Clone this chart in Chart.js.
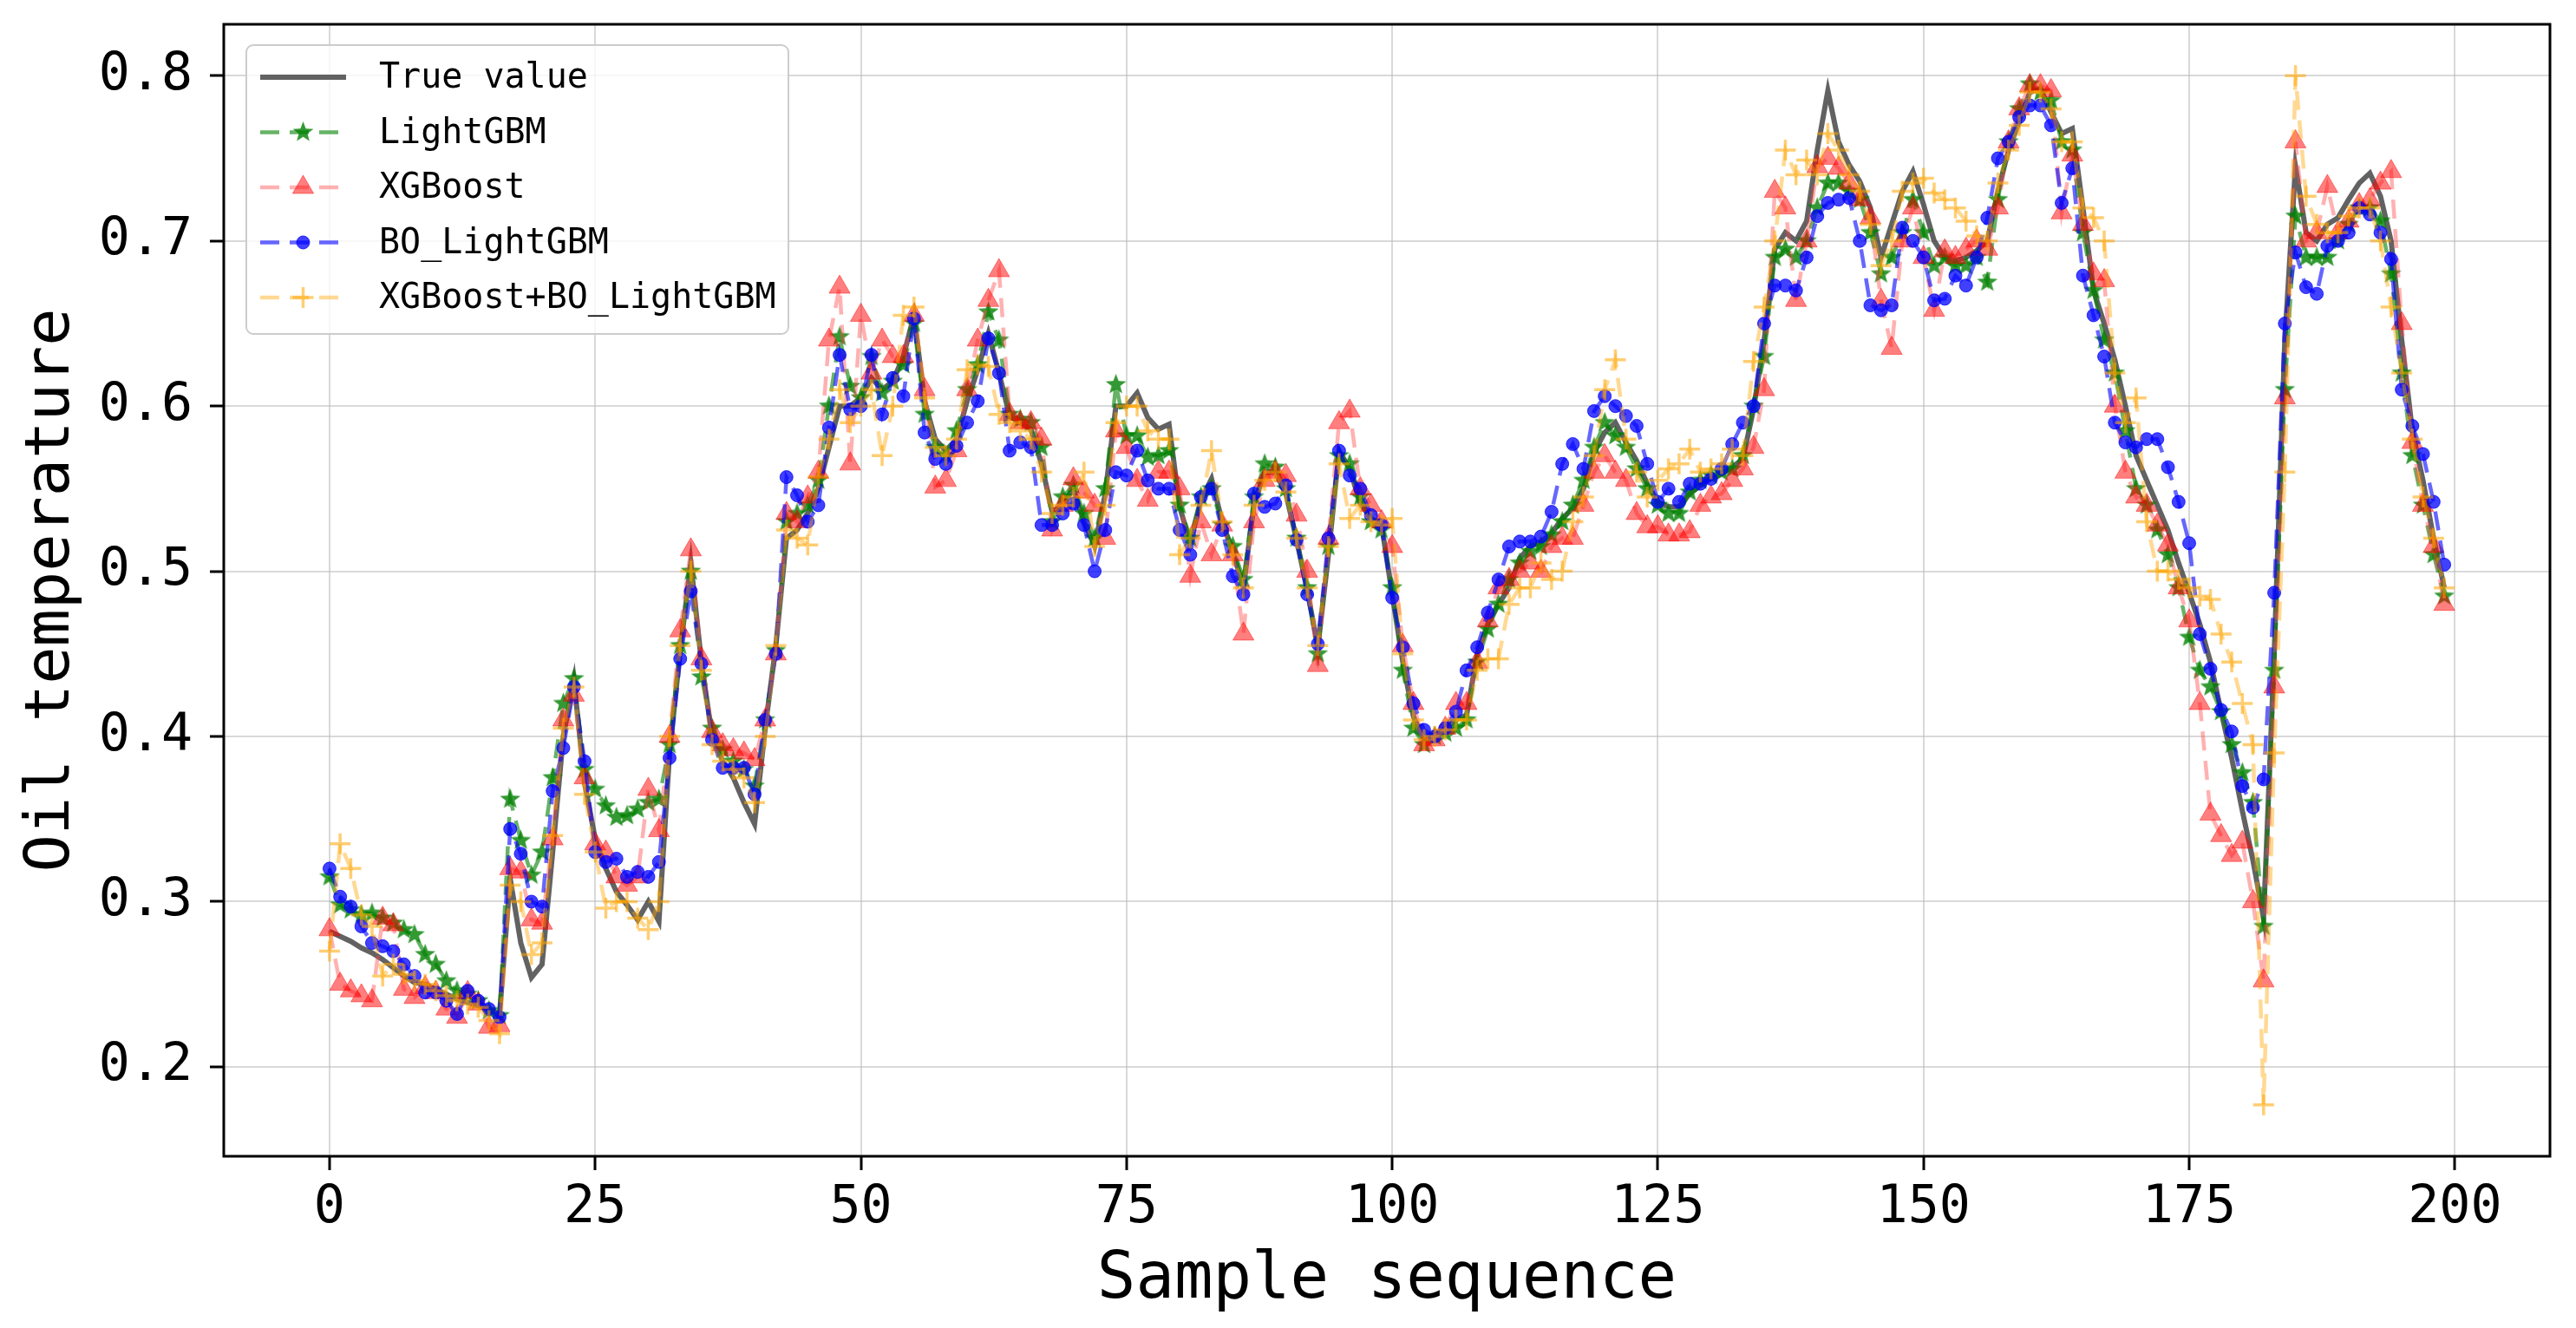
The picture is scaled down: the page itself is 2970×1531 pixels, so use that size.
<!DOCTYPE html>
<html>
<head>
<meta charset="utf-8">
<script src="https://cdn.jsdelivr.net/npm/chart.js@4.4.1/dist/chart.umd.min.js"></script>
<style>
html,body{margin:0;padding:0;background:#ffffff;}
canvas{display:block;}
</style>
</head>
<body>
<canvas id="c" width="2970" height="1531" style="width:2970px;height:1531px"></canvas>
<script>
// ---------------- data ----------------
const samples = Array.from({length: 200}, (_, i) => i);

const trueValue = [
0.282,0.279,0.276,0.272,0.269,0.265,0.260,0.255,0.251,0.250,
0.247,0.244,0.241,0.239,0.237,0.235,0.232,0.314,0.275,0.254,
0.262,0.330,0.400,0.434,0.372,0.338,0.320,0.306,0.298,0.289,
0.300,0.288,0.390,0.452,0.505,0.445,0.400,0.385,0.375,0.360,
0.347,0.405,0.455,0.520,0.525,0.535,0.550,0.575,0.600,0.600,
0.605,0.617,0.610,0.615,0.630,0.655,0.603,0.580,0.573,0.580,
0.603,0.622,0.644,0.620,0.594,0.590,0.586,0.565,0.536,0.540,
0.550,0.530,0.515,0.547,0.600,0.600,0.608,0.593,0.586,0.589,
0.539,0.517,0.543,0.556,0.530,0.512,0.490,0.541,0.560,0.560,
0.547,0.519,0.489,0.454,0.510,0.573,0.562,0.541,0.532,0.528,
0.486,0.445,0.412,0.398,0.400,0.405,0.410,0.413,0.450,0.468,
0.480,0.490,0.508,0.515,0.518,0.523,0.532,0.538,0.550,0.572,
0.584,0.590,0.578,0.567,0.553,0.542,0.539,0.539,0.547,0.552,
0.556,0.559,0.563,0.568,0.598,0.640,0.695,0.705,0.700,0.712,
0.755,0.791,0.760,0.746,0.736,0.720,0.690,0.710,0.730,0.742,
0.722,0.700,0.690,0.688,0.690,0.694,0.700,0.730,0.755,0.772,
0.790,0.792,0.778,0.765,0.768,0.720,0.670,0.650,0.628,0.600,
0.570,0.555,0.540,0.525,0.505,0.487,0.468,0.445,0.415,0.387,
0.355,0.325,0.290,0.450,0.640,0.745,0.705,0.700,0.710,0.714,
0.725,0.735,0.741,0.727,0.700,0.640,0.585,0.555,0.520,0.490
];

const lightGBM = [
0.315,0.298,0.295,0.292,0.293,0.290,0.287,0.283,0.280,0.268,
0.262,0.252,0.246,0.244,0.240,0.234,0.231,0.362,0.337,0.316,
0.330,0.375,0.420,0.435,0.380,0.368,0.358,0.351,0.352,0.356,
0.360,0.362,0.395,0.455,0.500,0.436,0.405,0.392,0.385,0.380,
0.370,0.410,0.452,0.530,0.535,0.540,0.555,0.600,0.642,0.612,
0.605,0.630,0.608,0.615,0.625,0.650,0.595,0.575,0.570,0.585,
0.610,0.625,0.657,0.640,0.595,0.592,0.590,0.575,0.530,0.545,
0.552,0.535,0.520,0.550,0.613,0.582,0.582,0.569,0.570,0.573,
0.540,0.520,0.545,0.550,0.528,0.515,0.495,0.545,0.565,0.563,
0.550,0.520,0.490,0.450,0.515,0.570,0.565,0.545,0.530,0.525,
0.490,0.440,0.405,0.395,0.400,0.402,0.405,0.410,0.445,0.465,
0.480,0.495,0.505,0.512,0.515,0.522,0.530,0.540,0.555,0.575,
0.590,0.582,0.575,0.562,0.550,0.540,0.535,0.535,0.548,0.555,
0.558,0.560,0.562,0.570,0.600,0.630,0.690,0.695,0.690,0.700,
0.720,0.735,0.735,0.730,0.725,0.705,0.680,0.690,0.705,0.725,
0.705,0.685,0.690,0.685,0.685,0.690,0.675,0.725,0.760,0.780,
0.795,0.790,0.785,0.760,0.755,0.705,0.670,0.640,0.620,0.585,
0.550,0.540,0.525,0.510,0.490,0.460,0.440,0.430,0.415,0.395,
0.378,0.360,0.285,0.440,0.610,0.715,0.690,0.690,0.690,0.700,
0.710,0.720,0.720,0.712,0.680,0.620,0.570,0.540,0.510,0.485
];

const xgBoost = [
0.283,0.250,0.246,0.243,0.240,0.290,0.286,0.247,0.242,0.248,
0.245,0.235,0.230,0.245,0.238,0.224,0.225,0.320,0.318,0.289,
0.287,0.338,0.410,0.425,0.375,0.335,0.330,0.315,0.310,0.315,
0.368,0.343,0.400,0.464,0.513,0.447,0.403,0.395,0.392,0.390,
0.386,0.410,0.450,0.535,0.530,0.545,0.560,0.640,0.672,0.565,
0.655,0.620,0.640,0.630,0.630,0.655,0.610,0.551,0.555,0.573,
0.610,0.640,0.664,0.682,0.595,0.590,0.590,0.580,0.525,0.540,
0.556,0.548,0.540,0.520,0.585,0.575,0.555,0.543,0.560,0.560,
0.550,0.497,0.530,0.510,0.528,0.510,0.462,0.530,0.555,0.560,
0.558,0.534,0.500,0.443,0.520,0.590,0.597,0.550,0.540,0.530,
0.515,0.455,0.420,0.395,0.398,0.405,0.420,0.420,0.445,0.470,
0.490,0.495,0.500,0.505,0.500,0.515,0.520,0.520,0.540,0.560,
0.570,0.560,0.555,0.535,0.527,0.527,0.522,0.522,0.524,0.540,
0.545,0.547,0.555,0.562,0.575,0.610,0.730,0.720,0.664,0.700,
0.745,0.750,0.744,0.735,0.725,0.714,0.664,0.635,0.700,0.720,
0.690,0.658,0.694,0.690,0.695,0.700,0.695,0.720,0.760,0.780,
0.794,0.794,0.791,0.717,0.752,0.710,0.680,0.676,0.600,0.560,
0.545,0.540,0.528,0.516,0.490,0.470,0.420,0.353,0.340,0.328,
0.336,0.300,0.252,0.430,0.605,0.760,0.700,0.705,0.733,0.705,
0.712,0.722,0.725,0.735,0.742,0.650,0.578,0.540,0.515,0.480
];

const boLightGBM = [
0.320,0.303,0.297,0.285,0.275,0.273,0.270,0.262,0.255,0.245,
0.245,0.240,0.232,0.246,0.240,0.235,0.230,0.344,0.329,0.300,
0.297,0.367,0.393,0.430,0.385,0.330,0.324,0.326,0.315,0.318,
0.315,0.324,0.387,0.447,0.488,0.444,0.398,0.381,0.381,0.381,
0.365,0.410,0.450,0.557,0.546,0.530,0.540,0.587,0.631,0.598,
0.600,0.631,0.595,0.617,0.606,0.653,0.584,0.568,0.565,0.576,
0.590,0.603,0.641,0.620,0.573,0.578,0.575,0.528,0.528,0.535,
0.541,0.528,0.500,0.525,0.560,0.558,0.573,0.555,0.550,0.550,
0.525,0.510,0.545,0.550,0.525,0.497,0.486,0.547,0.539,0.541,
0.552,0.519,0.486,0.456,0.520,0.573,0.558,0.550,0.534,0.528,
0.484,0.454,0.420,0.404,0.400,0.405,0.415,0.440,0.454,0.475,
0.495,0.515,0.518,0.518,0.521,0.536,0.565,0.577,0.562,0.597,
0.606,0.600,0.594,0.588,0.565,0.542,0.550,0.542,0.553,0.553,
0.556,0.562,0.577,0.590,0.600,0.650,0.673,0.673,0.670,0.690,
0.715,0.723,0.725,0.726,0.700,0.661,0.658,0.661,0.708,0.700,
0.690,0.664,0.665,0.679,0.673,0.690,0.714,0.750,0.760,0.775,
0.782,0.782,0.770,0.723,0.744,0.679,0.655,0.630,0.590,0.578,
0.575,0.580,0.580,0.563,0.542,0.517,0.462,0.441,0.416,0.403,
0.370,0.357,0.374,0.487,0.650,0.693,0.672,0.668,0.697,0.700,
0.705,0.720,0.716,0.705,0.689,0.610,0.588,0.571,0.542,0.504
];

const xgbBoLightGBM = [
0.270,0.335,0.320,0.292,0.285,0.255,0.262,0.256,0.252,0.250,
0.246,0.243,0.240,0.238,0.236,0.228,0.220,0.310,0.300,0.268,
0.275,0.340,0.405,0.430,0.365,0.330,0.296,0.300,0.300,0.290,
0.283,0.300,0.400,0.455,0.500,0.440,0.395,0.385,0.380,0.375,
0.360,0.400,0.455,0.525,0.520,0.516,0.557,0.580,0.610,0.590,
0.600,0.610,0.570,0.600,0.655,0.660,0.605,0.575,0.570,0.580,
0.622,0.625,0.624,0.595,0.590,0.585,0.580,0.560,0.535,0.540,
0.545,0.560,0.515,0.540,0.590,0.600,0.600,0.585,0.580,0.580,
0.510,0.520,0.540,0.573,0.530,0.510,0.490,0.540,0.555,0.560,
0.548,0.520,0.490,0.455,0.515,0.565,0.532,0.540,0.530,0.528,
0.532,0.450,0.410,0.398,0.400,0.404,0.410,0.410,0.440,0.447,
0.447,0.480,0.490,0.490,0.505,0.495,0.500,0.530,0.545,0.570,
0.610,0.628,0.580,0.560,0.545,0.555,0.562,0.565,0.574,0.560,
0.562,0.565,0.574,0.570,0.627,0.660,0.700,0.755,0.740,0.749,
0.740,0.765,0.755,0.740,0.730,0.710,0.685,0.700,0.730,0.735,
0.738,0.729,0.725,0.720,0.712,0.703,0.700,0.735,0.755,0.770,
0.790,0.790,0.780,0.760,0.760,0.720,0.714,0.700,0.620,0.590,
0.605,0.530,0.500,0.500,0.495,0.490,0.485,0.483,0.462,0.445,
0.420,0.395,0.177,0.390,0.560,0.800,0.727,0.710,0.705,0.705,
0.715,0.720,0.720,0.700,0.660,0.620,0.580,0.545,0.520,0.490
];

const seriesNames = ['True value', 'LightGBM', 'XGBoost', 'BO_LightGBM', 'XGBoost+BO_LightGBM'];
const xTicks = [0, 25, 50, 75, 100, 125, 150, 175, 200];
const yTicks = [0.2, 0.3, 0.4, 0.5, 0.6, 0.7, 0.8];
const xLabel = 'Sample sequence';
const yLabel = 'Oil temperature';

// ---------------- helpers ----------------
const FONT = "'DejaVu Sans Mono', 'Liberation Mono', monospace";
const toPoints = arr => arr.map((v, i) => ({x: samples[i], y: v}));

function makeStar(R, color) {
  const s = Math.ceil(2 * R + 4);
  const c = document.createElement('canvas');
  c.width = s; c.height = s;
  const g = c.getContext('2d');
  g.fillStyle = color;
  g.beginPath();
  for (let k = 0; k < 10; k++) {
    const r = (k % 2 === 0) ? R : R * 0.42;
    const a = -Math.PI / 2 + k * Math.PI / 5;
    const px = s / 2 + r * Math.cos(a), py = s / 2 + r * Math.sin(a);
    if (k === 0) g.moveTo(px, py); else g.lineTo(px, py);
  }
  g.closePath();
  g.fill();
  return c;
}

const starImg = makeStar(12.5, 'rgba(0,128,0,0.8)');

const allVals = [].concat(trueValue, lightGBM, xgBoost, boLightGBM, xgbBoLightGBM);
const vMin = Math.min(...allVals), vMax = Math.max(...allVals);
const yMargin = (vMax - vMin) * 0.05;
const xMargin = (samples[samples.length - 1] - samples[0]) * 0.05;

const styles = [
  {color: 'rgba(70,70,70,0.85)', width: 6, dash: [], marker: null},
  {color: 'rgba(0,128,0,0.6)', width: 4.5, dash: [22, 12], marker: {style: starImg, r: 12, fill: 'rgba(0,128,0,0.8)', stroke: 'rgba(0,128,0,0.8)', bw: 1}},
  {color: 'rgba(255,70,70,0.42)', width: 4.5, dash: [22, 12], marker: {style: 'triangle', r: 14, fill: 'rgba(255,0,0,0.5)', stroke: 'rgba(255,0,0,0.45)', bw: 1}},
  {color: 'rgba(0,0,255,0.6)', width: 4.5, dash: [22, 12], marker: {style: 'circle', r: 7.5, fill: 'rgba(0,0,255,0.75)', stroke: 'rgba(0,0,255,0.75)', bw: 1}},
  {color: 'rgba(255,165,0,0.42)', width: 4.5, dash: [22, 12], marker: {style: 'cross', r: 12, fill: 'rgba(255,165,0,0.55)', stroke: 'rgba(255,165,0,0.55)', bw: 3.5}}
];

const seriesData = [trueValue, lightGBM, xgBoost, boLightGBM, xgbBoLightGBM];

const datasets = seriesData.map((arr, k) => {
  const st = styles[k];
  return {
    label: seriesNames[k],
    data: toPoints(arr),
    borderColor: st.color,
    borderWidth: st.width,
    borderDash: st.dash,
    fill: false,
    tension: 0,
    pointStyle: st.marker ? st.marker.style : 'circle',
    pointRadius: st.marker ? st.marker.r : 0,
    pointHoverRadius: st.marker ? st.marker.r : 0,
    pointBackgroundColor: st.marker ? st.marker.fill : st.color,
    pointBorderColor: st.marker ? st.marker.stroke : st.color,
    pointBorderWidth: st.marker ? st.marker.bw : 0,
    order: 5 - k
  };
});

// ---------------- plugins ----------------
function roundRect(ctx, x, y, w, h, r) {
  ctx.beginPath();
  ctx.moveTo(x + r, y);
  ctx.arcTo(x + w, y, x + w, y + h, r);
  ctx.arcTo(x + w, y + h, x, y + h, r);
  ctx.arcTo(x, y + h, x, y, r);
  ctx.arcTo(x, y, x + w, y, r);
  ctx.closePath();
}

function drawMarker(ctx, m, x, y) {
  ctx.save();
  ctx.setLineDash([]);
  ctx.fillStyle = m.fill;
  ctx.strokeStyle = m.stroke;
  ctx.lineWidth = m.bw;
  if (typeof m.style !== 'string') {
    ctx.drawImage(m.style, x - m.style.width / 2, y - m.style.height / 2);
  } else if (m.style === 'triangle') {
    ctx.beginPath();
    for (let k = 0; k < 3; k++) {
      const a = k * 2 * Math.PI / 3;
      const px = x + Math.sin(a) * m.r, py = y - Math.cos(a) * m.r;
      if (k === 0) ctx.moveTo(px, py); else ctx.lineTo(px, py);
    }
    ctx.closePath(); ctx.fill(); ctx.stroke();
  } else if (m.style === 'circle') {
    ctx.beginPath(); ctx.arc(x, y, m.r, 0, Math.PI * 2); ctx.fill(); ctx.stroke();
  } else if (m.style === 'cross') {
    ctx.beginPath();
    ctx.moveTo(x, y - m.r); ctx.lineTo(x, y + m.r);
    ctx.moveTo(x - m.r, y); ctx.lineTo(x + m.r, y);
    ctx.stroke();
  }
  ctx.restore();
}

const framePlugin = {
  id: 'frame',
  afterDatasetsDraw(chart) {
    const {ctx, chartArea: a} = chart;
    ctx.save();
    ctx.strokeStyle = '#000000';
    ctx.lineWidth = 3;
    ctx.setLineDash([]);
    ctx.strokeRect(a.left, a.top, a.right - a.left, a.bottom - a.top);
    ctx.restore();
  }
};

const legendPlugin = {
  id: 'mplLegend',
  afterDraw(chart) {
    const {ctx, chartArea: a} = chart;
    const bx = a.left + 26, by = a.top + 24, bw = 625, bh = 333;
    ctx.save();
    roundRect(ctx, bx, by, bw, bh, 8);
    ctx.fillStyle = 'rgba(255,255,255,0.8)';
    ctx.fill();
    ctx.strokeStyle = 'rgba(204,204,204,1)';
    ctx.lineWidth = 2;
    ctx.stroke();
    const rowH = 63.5;
    for (let k = 0; k < seriesNames.length; k++) {
      const st = styles[k];
      const cy = by + 37 + k * rowH;
      const x0 = bx + 16, x1 = bx + 115;
      ctx.save();
      ctx.strokeStyle = st.color;
      ctx.lineWidth = st.width;
      ctx.setLineDash(st.dash);
      ctx.beginPath(); ctx.moveTo(x0, cy); ctx.lineTo(x1, cy); ctx.stroke();
      ctx.restore();
      if (st.marker) drawMarker(ctx, st.marker, (x0 + x1) / 2, cy);
      ctx.fillStyle = '#000000';
      ctx.font = "40px " + FONT;
      ctx.textAlign = 'left';
      ctx.textBaseline = 'middle';
      ctx.fillText(seriesNames[k], bx + 153, cy + 2);
    }
    ctx.restore();
  }
};

// ---------------- chart ----------------
Chart.defaults.font.family = FONT;
Chart.defaults.color = '#000000';

new Chart(document.getElementById('c'), {
  type: 'line',
  data: {datasets: datasets},
  options: {
    responsive: false,
    animation: false,
    devicePixelRatio: 1,
    events: [],
    layout: {autoPadding: false, padding: {top: 28, right: 30, left: 0, bottom: 0}},
    plugins: {legend: {display: false}, tooltip: {enabled: false}},
    scales: {
      x: {
        type: 'linear',
        min: samples[0] - xMargin,
        max: samples[samples.length - 1] + xMargin,
        afterBuildTicks: axis => { axis.ticks = xTicks.map(v => ({value: v})); },
        afterFit: scale => { scale.height = 198; },
        ticks: {
          font: {size: 60, family: FONT},
          color: '#000000',
          padding: 8,
          maxRotation: 0,
          autoSkip: false,
          callback: v => String(v)
        },
        grid: {
          color: 'rgba(185,185,185,0.55)',
          lineWidth: 2,
          drawTicks: true,
          tickLength: 16,
          tickColor: '#000000',
          tickWidth: 3
        },
        border: {display: false},
        title: {
          display: true,
          text: xLabel,
          font: {size: 74, family: FONT, lineHeight: 1.2},
          color: '#000000',
          padding: {top: 0, bottom: 10}
        }
      },
      y: {
        type: 'linear',
        min: vMin - yMargin,
        max: vMax + yMargin,
        afterBuildTicks: axis => { axis.ticks = yTicks.map(v => ({value: v})); },
        afterFit: scale => { scale.width = 258; },
        ticks: {
          font: {size: 60, family: FONT, lineHeight: 0.25},
          color: '#000000',
          padding: 20,
          autoSkip: false,
          callback: v => v.toFixed(1)
        },
        grid: {
          color: 'rgba(185,185,185,0.55)',
          lineWidth: 2,
          drawTicks: true,
          tickLength: 16,
          tickColor: '#000000',
          tickWidth: 3
        },
        border: {display: false},
        title: {
          display: true,
          text: yLabel,
          font: {size: 72, family: FONT, lineHeight: 1.2},
          color: '#000000',
          padding: {top: 17, bottom: 0}
        }
      }
    }
  },
  plugins: [framePlugin, legendPlugin]
});
</script>
</body>
</html>
